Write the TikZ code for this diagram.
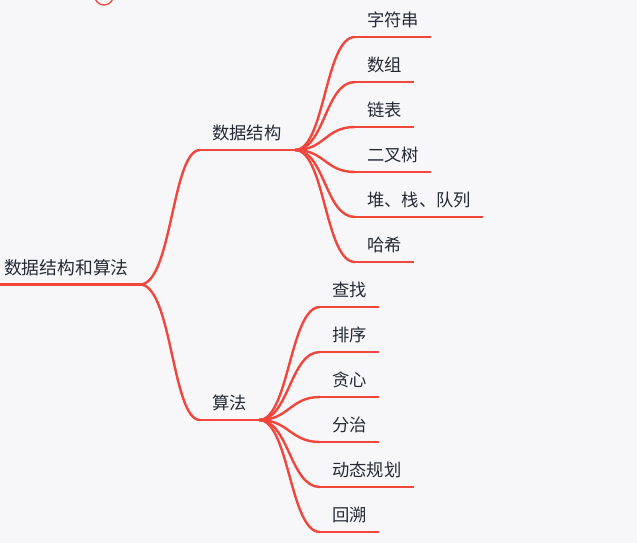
\documentclass[tikz,border=0pt]{standalone}
\usepackage{fontspec}
\setmainfont{Noto Sans CJK SC}
\definecolor{bg}{HTML}{F7F7F9}
\definecolor{lk}{HTML}{F0463C}
\definecolor{tx}{HTML}{252A35}
\begin{document}
\begin{tikzpicture}[x=1pt,y=-1pt,
  lbl/.style={anchor=west,inner sep=0pt,text=tx,font=\fontsize{17.3}{20}\selectfont},
  ln/.style={draw=lk,line width=2.4pt},
  lnk/.style={draw=lk,line width=2.4pt},
  fold/.style={circle,draw=lk,line width=1.3pt,fill=bg,minimum size=19pt,inner sep=0pt}]
\fill[bg] (0,0) rectangle (637,543);
\useasboundingbox (0,0) rectangle (637,543);

% fold marker at the top
\node[fold] (foldmark) at (104,-4.5) {};

% root
\node[lbl,font=\fontsize{17.8}{20}\selectfont] (root) at (4,267.5) {数据结构和算法};
\coordinate (rootS) at (-10,284.5);
\coordinate (rootE) at (140,284.5);
\draw[ln] (rootS) -- (rootE);

% level 1
\node[lbl] (ds) at (212,132.5) {数据结构};
\coordinate (dsS) at (200,150);
\coordinate (dsE) at (295,150);
\draw[ln] (dsS) -- (dsE);
\draw[lnk] (rootE) .. controls +(32,0) and +(-28,0) .. (dsS);

\node[lbl] (al) at (212,402.5) {算法};
\coordinate (alS) at (200,420);
\coordinate (alE) at (259,420);
\draw[ln] (alS) -- (alE);
\draw[lnk] (rootE) .. controls +(32,0) and +(-28,0) .. (alS);

% children of 数据结构
\foreach \i/\y/\t in {1/37/字符串,2/82/数组,3/127/链表,4/172/二叉树,5/217/堆、栈、队列,6/262/哈希}{
  \coordinate (dsS\i) at (355,\y);
  \node[lbl] (ds\i) at (367,\y-17) {\t};
  \draw[ln] (dsS\i) -- (dsS\i -| ds\i.east) -- ++(12,0) coordinate (dsE\i);
  \draw[lnk] (dsE) .. controls +(30,0) and +(-30,0) .. (dsS\i);
}

% children of 算法
\foreach \i/\y/\t in {1/307/查找,2/352/排序,3/397/贪心,4/442/分治,5/487/动态规划,6/532/回溯}{
  \coordinate (alS\i) at (320,\y);
  \node[lbl] (al\i) at (332,\y-17) {\t};
  \draw[ln] (alS\i) -- (alS\i -| al\i.east) -- ++(12,0) coordinate (alE\i);
  \draw[lnk] (alE) .. controls +(30,0) and +(-30,0) .. (alS\i);
}
\end{tikzpicture}
\end{document}
